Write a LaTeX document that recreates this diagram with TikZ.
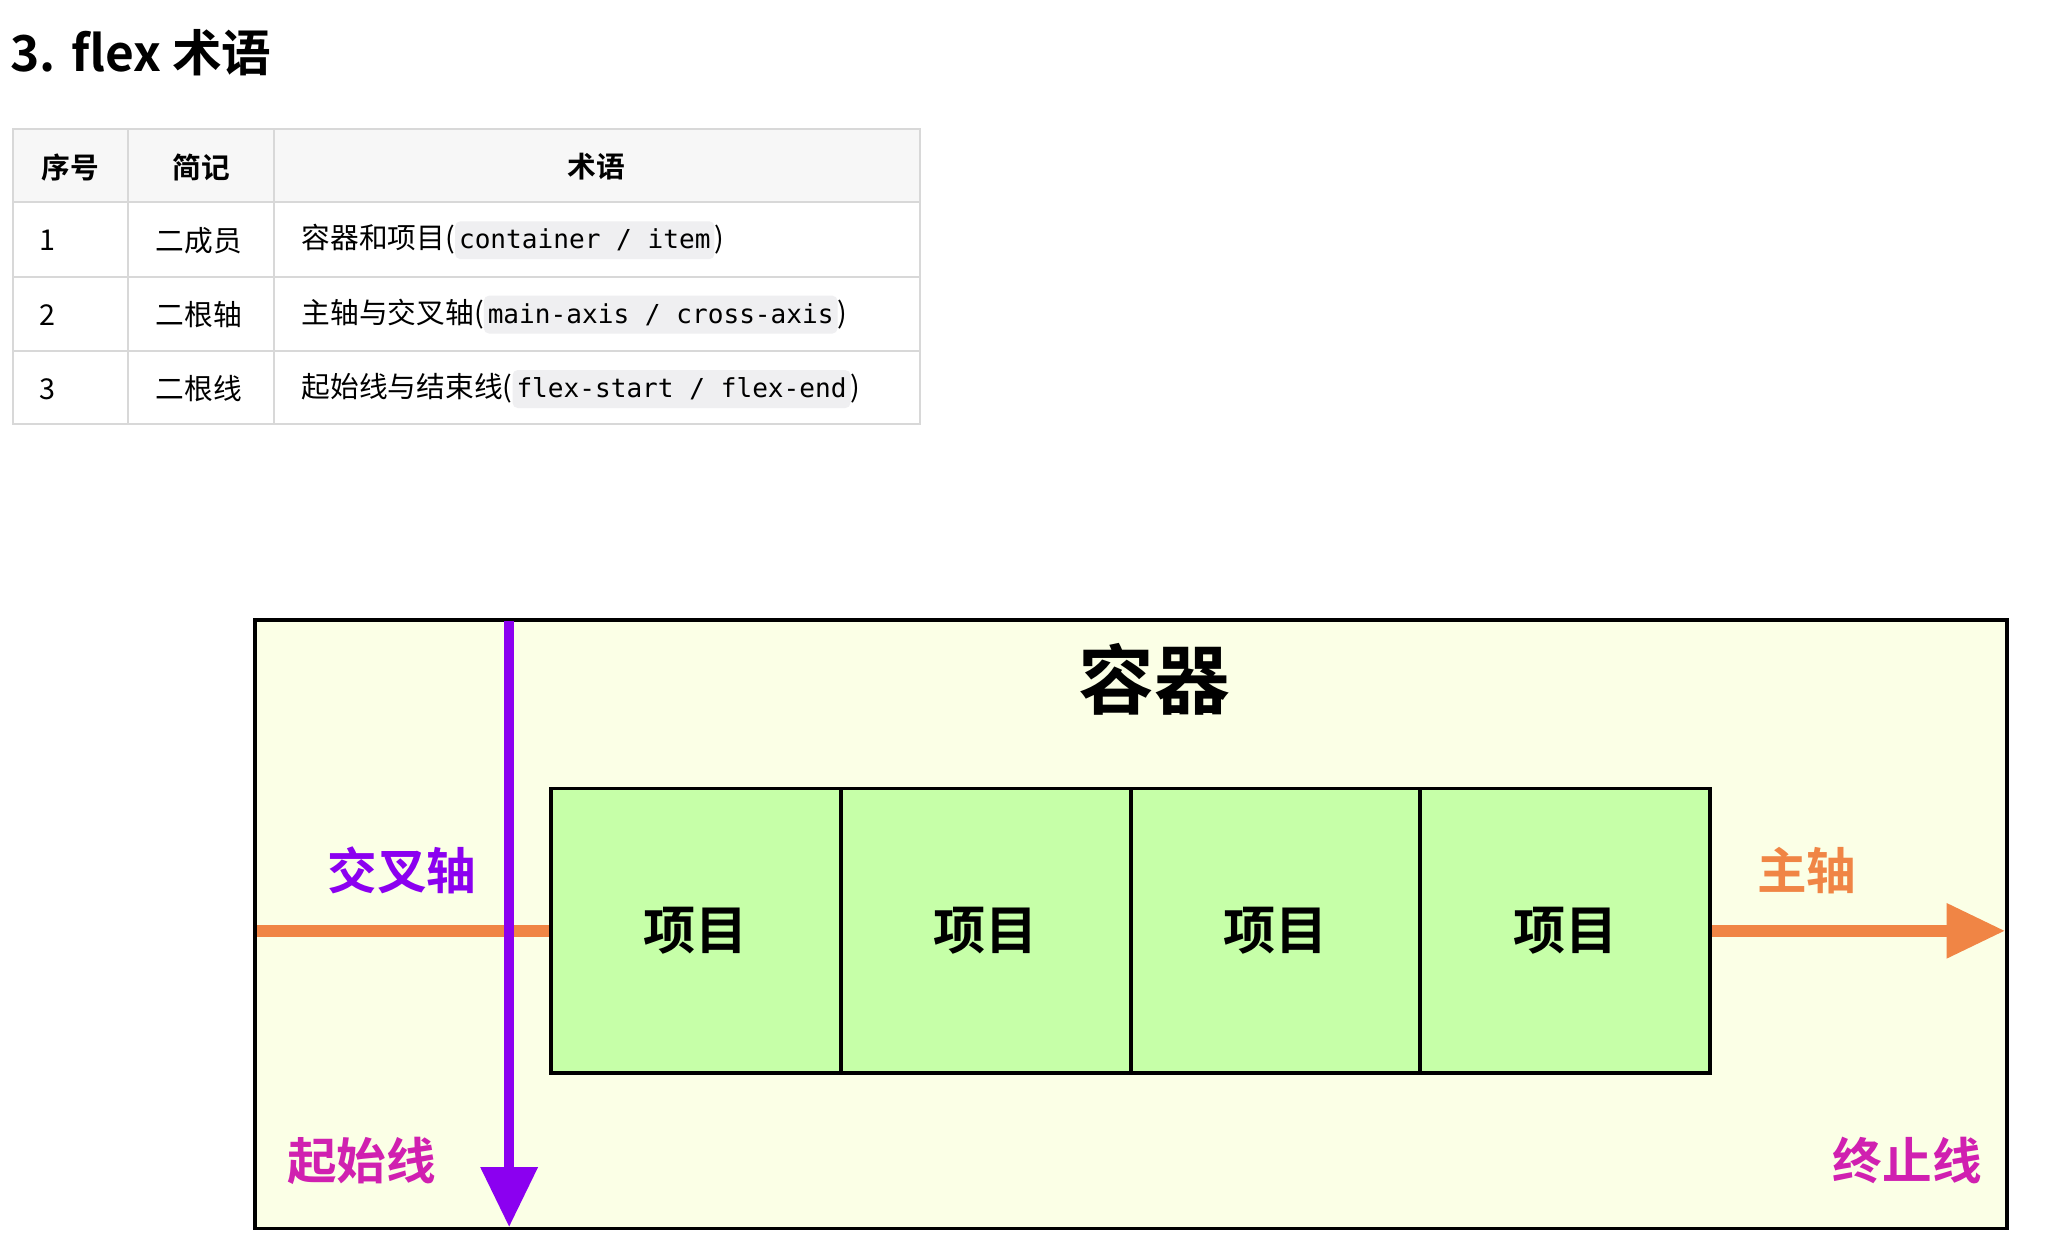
\documentclass[tikz,border=0pt]{standalone}
\usepackage{fontspec}
\setmainfont{Noto Sans CJK SC}
\newfontfamily\cjkb{Noto Sans CJK SC Bold}
\setmonofont{DejaVu Sans Mono}
\usetikzlibrary{arrows.meta}
\definecolor{cfill}{HTML}{FBFFE6}
\definecolor{ifill}{HTML}{C6FFA8}
\definecolor{purp}{HTML}{8B00F0}
\definecolor{orng}{HTML}{F08545}
\definecolor{mag}{HTML}{D020B0}
\definecolor{tline}{HTML}{D8D8D8}
\definecolor{codebg}{HTML}{EFEFF1}
\begin{document}
\begin{tikzpicture}[x=1pt,y=-1pt,
  cell/.style={anchor=west,font=\fontsize{22}{26}\selectfont,inner sep=0},
  hcell/.style={anchor=center,font=\cjkb\fontsize{22}{26}\selectfont,inner sep=0},
  code/.style={fill=codebg,rounded corners=4pt,font=\ttfamily\fontsize{20}{24}\selectfont,inner xsep=3pt,inner ysep=6pt},
  itembox/.style={draw=black,line width=3pt,fill=ifill,minimum width=222pt,minimum height=218pt,font=\cjkb\fontsize{40}{44}\selectfont,inner sep=0},
  biglab/.style={font=\cjkb\fontsize{38}{42}\selectfont,inner sep=0}]
\useasboundingbox (0,0) rectangle (1568,962);
\fill[white] (0,0) rectangle (1568,962);
% title
\node[anchor=west,inner sep=0,font=\cjkb\fontsize{38}{44}\selectfont] (title) at (8,40) {3. flex 术语};
% table
\fill[black!3] (10,99) rectangle (705,155);
\draw[tline,line width=1.5pt] (10,99) rectangle (705,325);
\foreach \y in {155,212,269} \draw[tline,line width=1.5pt] (10,\y) -- (705,\y);
\foreach \x in {98,210} \draw[tline,line width=1.5pt] (\x,99) -- (\x,325);
\node[hcell] (h1) at (54,128) {序号};
\node[hcell] (h2) at (154,128) {简记};
\node[hcell] (h3) at (457,128) {术语};
\node[cell] (n1) at (30,184) {1};
\node[cell] (n2) at (30,241) {2};
\node[cell] (n3) at (30,298) {3};
\node[cell] (s1) at (119,184) {二成员};
\node[cell] (s2) at (119,241) {二根轴};
\node[cell] (s3) at (119,298) {二根线};
\node[cell] (t1) at (231,184) {容器和项目(\tikz[baseline=(c.base)]\node[code](c){container / item};)};
\node[cell] (t2) at (231,241) {主轴与交叉轴(\tikz[baseline=(c.base)]\node[code](c){main-axis / cross-axis};)};
\node[cell] (t3) at (231,298) {起始线与结束线(\tikz[baseline=(c.base)]\node[code](c){flex-start / flex-end};)};
% container
\node[draw=black,line width=3pt,fill=cfill,minimum width=1342pt,minimum height=466pt,inner sep=0] (cont) at (866,708) {};
\node[font=\cjkb\fontsize{58}{62}\selectfont,inner sep=0] (clab) at (884,520) {容器};
\coordinate (oa) at (197,713);
\coordinate (ob) at (1536,713);
\draw[orng,line width=9pt,-{Triangle[width=40pt,length=45pt]}] (oa) -- (ob);
\coordinate (pa) at (390,476);
\coordinate (pb) at (390,940);
\draw[purp,line width=8pt,-{Triangle[width=42pt,length=46pt]}] (pa) -- (pb);
\node[itembox] (i1) at (533,713) {项目};
\node[itembox] (i2) at (755,713) {项目};
\node[itembox] (i3) at (977,713) {项目};
\node[itembox] (i4) at (1199,713) {项目};
\node[biglab,text=purp] (cross) at (308,667) {交叉轴};
\node[biglab,text=orng] (main) at (1384,667) {主轴};
\node[biglab,text=mag] (start) at (277,889) {起始线};
\node[biglab,text=mag] (endl) at (1461,889) {终止线};
\end{tikzpicture}
\end{document}
